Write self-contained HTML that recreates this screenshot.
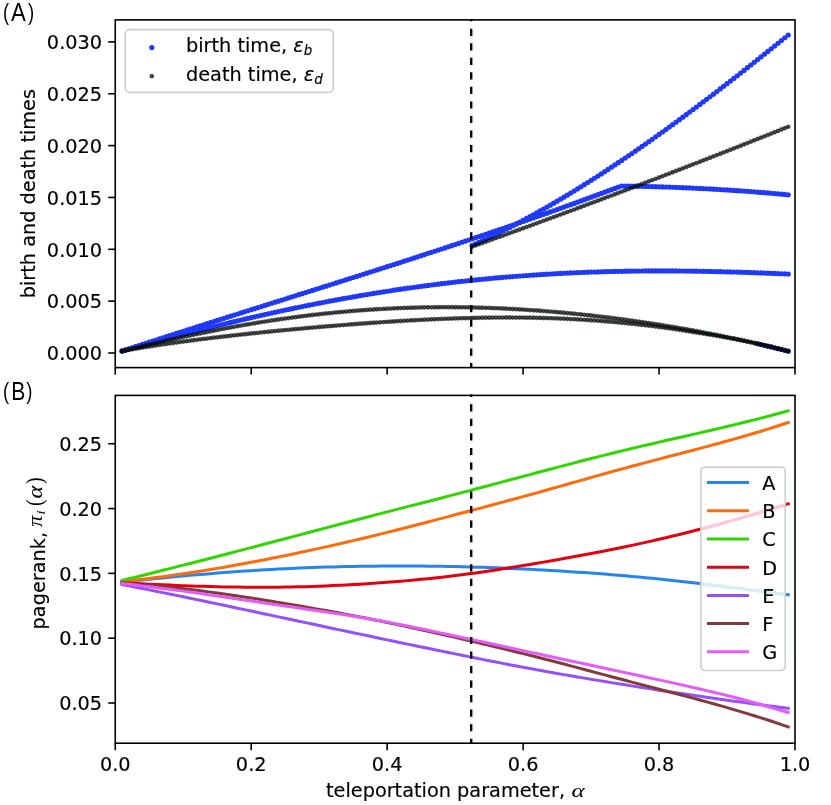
<!DOCTYPE html>
<html lang="en"><head><meta charset="utf-8"><title>Figure</title>
<style>html,body{margin:0;padding:0;background:#fff}body{width:831px;height:805px;overflow:hidden}svg text{white-space:pre}</style></head>
<body>
<svg width="831" height="805" viewBox="0 0 831 805" style="display:block">
<rect x="0" y="0" width="831" height="805" fill="#ffffff"/>
<g id="panelA">
<g fill="#2038f8"><circle cx="122.05" cy="350.97" r="2.6"/><circle cx="125.45" cy="350.01" r="2.6"/><circle cx="128.84" cy="349.06" r="2.6"/><circle cx="132.24" cy="348.12" r="2.6"/><circle cx="135.64" cy="347.17" r="2.6"/><circle cx="139.04" cy="346.23" r="2.6"/><circle cx="142.44" cy="345.30" r="2.6"/><circle cx="145.84" cy="344.36" r="2.6"/><circle cx="149.24" cy="343.44" r="2.6"/><circle cx="152.64" cy="342.51" r="2.6"/><circle cx="156.03" cy="341.59" r="2.6"/><circle cx="159.43" cy="340.67" r="2.6"/><circle cx="162.83" cy="339.76" r="2.6"/><circle cx="166.23" cy="338.85" r="2.6"/><circle cx="169.63" cy="337.94" r="2.6"/><circle cx="173.03" cy="337.04" r="2.6"/><circle cx="176.43" cy="336.15" r="2.6"/><circle cx="179.83" cy="335.25" r="2.6"/><circle cx="183.23" cy="334.37" r="2.6"/><circle cx="186.62" cy="333.48" r="2.6"/><circle cx="190.02" cy="332.61" r="2.6"/><circle cx="193.42" cy="331.73" r="2.6"/><circle cx="196.82" cy="330.86" r="2.6"/><circle cx="200.22" cy="330.00" r="2.6"/><circle cx="203.62" cy="329.14" r="2.6"/><circle cx="207.02" cy="328.28" r="2.6"/><circle cx="210.42" cy="327.43" r="2.6"/><circle cx="213.81" cy="326.59" r="2.6"/><circle cx="217.21" cy="325.75" r="2.6"/><circle cx="220.61" cy="324.91" r="2.6"/><circle cx="224.01" cy="324.08" r="2.6"/><circle cx="227.41" cy="323.26" r="2.6"/><circle cx="230.81" cy="322.44" r="2.6"/><circle cx="234.21" cy="321.63" r="2.6"/><circle cx="237.60" cy="320.82" r="2.6"/><circle cx="241.00" cy="320.02" r="2.6"/><circle cx="244.40" cy="319.22" r="2.6"/><circle cx="247.80" cy="318.43" r="2.6"/><circle cx="251.20" cy="317.64" r="2.6"/><circle cx="254.60" cy="316.86" r="2.6"/><circle cx="258.00" cy="316.09" r="2.6"/><circle cx="261.40" cy="315.32" r="2.6"/><circle cx="264.79" cy="314.55" r="2.6"/><circle cx="268.19" cy="313.80" r="2.6"/><circle cx="271.59" cy="313.04" r="2.6"/><circle cx="274.99" cy="312.30" r="2.6"/><circle cx="278.39" cy="311.56" r="2.6"/><circle cx="281.79" cy="310.83" r="2.6"/><circle cx="285.19" cy="310.10" r="2.6"/><circle cx="288.59" cy="309.38" r="2.6"/><circle cx="291.99" cy="308.66" r="2.6"/><circle cx="295.38" cy="307.95" r="2.6"/><circle cx="298.78" cy="307.25" r="2.6"/><circle cx="302.18" cy="306.55" r="2.6"/><circle cx="305.58" cy="305.86" r="2.6"/><circle cx="308.98" cy="305.18" r="2.6"/><circle cx="312.38" cy="304.50" r="2.6"/><circle cx="315.78" cy="303.83" r="2.6"/><circle cx="319.17" cy="303.16" r="2.6"/><circle cx="322.57" cy="302.51" r="2.6"/><circle cx="325.97" cy="301.85" r="2.6"/><circle cx="329.37" cy="301.21" r="2.6"/><circle cx="332.77" cy="300.57" r="2.6"/><circle cx="336.17" cy="299.94" r="2.6"/><circle cx="339.57" cy="299.31" r="2.6"/><circle cx="342.97" cy="298.69" r="2.6"/><circle cx="346.37" cy="298.08" r="2.6"/><circle cx="349.76" cy="297.48" r="2.6"/><circle cx="353.16" cy="296.88" r="2.6"/><circle cx="356.56" cy="296.28" r="2.6"/><circle cx="359.96" cy="295.70" r="2.6"/><circle cx="363.36" cy="295.12" r="2.6"/><circle cx="366.76" cy="294.55" r="2.6"/><circle cx="370.16" cy="293.98" r="2.6"/><circle cx="373.56" cy="293.42" r="2.6"/><circle cx="376.95" cy="292.87" r="2.6"/><circle cx="380.35" cy="292.33" r="2.6"/><circle cx="383.75" cy="291.79" r="2.6"/><circle cx="387.15" cy="291.26" r="2.6"/><circle cx="390.55" cy="290.74" r="2.6"/><circle cx="393.95" cy="290.22" r="2.6"/><circle cx="397.35" cy="289.71" r="2.6"/><circle cx="400.75" cy="289.21" r="2.6"/><circle cx="404.14" cy="288.71" r="2.6"/><circle cx="407.54" cy="288.22" r="2.6"/><circle cx="410.94" cy="287.74" r="2.6"/><circle cx="414.34" cy="287.26" r="2.6"/><circle cx="417.74" cy="286.79" r="2.6"/><circle cx="421.14" cy="286.33" r="2.6"/><circle cx="424.54" cy="285.88" r="2.6"/><circle cx="427.94" cy="285.43" r="2.6"/><circle cx="431.33" cy="284.99" r="2.6"/><circle cx="434.73" cy="284.56" r="2.6"/><circle cx="438.13" cy="284.13" r="2.6"/><circle cx="441.53" cy="283.71" r="2.6"/><circle cx="444.93" cy="283.30" r="2.6"/><circle cx="448.33" cy="282.90" r="2.6"/><circle cx="451.73" cy="282.50" r="2.6"/><circle cx="455.12" cy="282.11" r="2.6"/><circle cx="458.52" cy="281.72" r="2.6"/><circle cx="461.92" cy="281.35" r="2.6"/><circle cx="465.32" cy="280.98" r="2.6"/><circle cx="468.72" cy="280.61" r="2.6"/><circle cx="472.12" cy="280.26" r="2.6"/><circle cx="475.52" cy="279.91" r="2.6"/><circle cx="478.92" cy="279.57" r="2.6"/><circle cx="482.31" cy="279.23" r="2.6"/><circle cx="485.71" cy="278.90" r="2.6"/><circle cx="489.11" cy="278.58" r="2.6"/><circle cx="492.51" cy="278.27" r="2.6"/><circle cx="495.91" cy="277.96" r="2.6"/><circle cx="499.31" cy="277.66" r="2.6"/><circle cx="502.71" cy="277.37" r="2.6"/><circle cx="506.11" cy="277.08" r="2.6"/><circle cx="509.50" cy="276.80" r="2.6"/><circle cx="512.90" cy="276.53" r="2.6"/><circle cx="516.30" cy="276.26" r="2.6"/><circle cx="519.70" cy="276.01" r="2.6"/><circle cx="523.10" cy="275.75" r="2.6"/><circle cx="526.50" cy="275.51" r="2.6"/><circle cx="529.90" cy="275.27" r="2.6"/><circle cx="533.30" cy="275.04" r="2.6"/><circle cx="536.69" cy="274.81" r="2.6"/><circle cx="540.09" cy="274.59" r="2.6"/><circle cx="543.49" cy="274.38" r="2.6"/><circle cx="546.89" cy="274.18" r="2.6"/><circle cx="550.29" cy="273.98" r="2.6"/><circle cx="553.69" cy="273.79" r="2.6"/><circle cx="557.09" cy="273.60" r="2.6"/><circle cx="560.49" cy="273.42" r="2.6"/><circle cx="563.88" cy="273.25" r="2.6"/><circle cx="567.28" cy="273.08" r="2.6"/><circle cx="570.68" cy="272.92" r="2.6"/><circle cx="574.08" cy="272.77" r="2.6"/><circle cx="577.48" cy="272.62" r="2.6"/><circle cx="580.88" cy="272.48" r="2.6"/><circle cx="584.28" cy="272.35" r="2.6"/><circle cx="587.68" cy="272.22" r="2.6"/><circle cx="591.08" cy="272.10" r="2.6"/><circle cx="594.47" cy="271.99" r="2.6"/><circle cx="597.87" cy="271.88" r="2.6"/><circle cx="601.27" cy="271.77" r="2.6"/><circle cx="604.67" cy="271.68" r="2.6"/><circle cx="608.07" cy="271.59" r="2.6"/><circle cx="611.47" cy="271.50" r="2.6"/><circle cx="614.87" cy="271.42" r="2.6"/><circle cx="618.26" cy="271.35" r="2.6"/><circle cx="621.66" cy="271.28" r="2.6"/><circle cx="625.06" cy="271.22" r="2.6"/><circle cx="628.46" cy="271.16" r="2.6"/><circle cx="631.86" cy="271.11" r="2.6"/><circle cx="635.26" cy="271.07" r="2.6"/><circle cx="638.66" cy="271.03" r="2.6"/><circle cx="642.06" cy="271.00" r="2.6"/><circle cx="645.46" cy="270.97" r="2.6"/><circle cx="648.85" cy="270.95" r="2.6"/><circle cx="652.25" cy="270.93" r="2.6"/><circle cx="655.65" cy="270.92" r="2.6"/><circle cx="659.05" cy="270.92" r="2.6"/><circle cx="662.45" cy="270.92" r="2.6"/><circle cx="665.85" cy="270.92" r="2.6"/><circle cx="669.25" cy="270.93" r="2.6"/><circle cx="672.64" cy="270.95" r="2.6"/><circle cx="676.04" cy="270.97" r="2.6"/><circle cx="679.44" cy="270.99" r="2.6"/><circle cx="682.84" cy="271.02" r="2.6"/><circle cx="686.24" cy="271.06" r="2.6"/><circle cx="689.64" cy="271.10" r="2.6"/><circle cx="693.04" cy="271.14" r="2.6"/><circle cx="696.44" cy="271.19" r="2.6"/><circle cx="699.84" cy="271.24" r="2.6"/><circle cx="703.23" cy="271.30" r="2.6"/><circle cx="706.63" cy="271.36" r="2.6"/><circle cx="710.03" cy="271.43" r="2.6"/><circle cx="713.43" cy="271.50" r="2.6"/><circle cx="716.83" cy="271.58" r="2.6"/><circle cx="720.23" cy="271.66" r="2.6"/><circle cx="723.63" cy="271.74" r="2.6"/><circle cx="727.02" cy="271.83" r="2.6"/><circle cx="730.42" cy="271.92" r="2.6"/><circle cx="733.82" cy="272.02" r="2.6"/><circle cx="737.22" cy="272.12" r="2.6"/><circle cx="740.62" cy="272.22" r="2.6"/><circle cx="744.02" cy="272.33" r="2.6"/><circle cx="747.42" cy="272.44" r="2.6"/><circle cx="750.82" cy="272.55" r="2.6"/><circle cx="754.21" cy="272.67" r="2.6"/><circle cx="757.61" cy="272.79" r="2.6"/><circle cx="761.01" cy="272.92" r="2.6"/><circle cx="764.41" cy="273.04" r="2.6"/><circle cx="767.81" cy="273.18" r="2.6"/><circle cx="771.21" cy="273.31" r="2.6"/><circle cx="774.61" cy="273.45" r="2.6"/><circle cx="778.01" cy="273.59" r="2.6"/><circle cx="781.40" cy="273.73" r="2.6"/><circle cx="784.80" cy="273.87" r="2.6"/><circle cx="788.20" cy="274.02" r="2.6"/></g>
<g fill="#2038f8"><circle cx="122.05" cy="351.07" r="2.6"/><circle cx="125.45" cy="349.95" r="2.6"/><circle cx="128.84" cy="348.84" r="2.6"/><circle cx="132.24" cy="347.73" r="2.6"/><circle cx="135.64" cy="346.62" r="2.6"/><circle cx="139.04" cy="345.51" r="2.6"/><circle cx="142.44" cy="344.41" r="2.6"/><circle cx="145.84" cy="343.30" r="2.6"/><circle cx="149.24" cy="342.20" r="2.6"/><circle cx="152.64" cy="341.10" r="2.6"/><circle cx="156.03" cy="340.00" r="2.6"/><circle cx="159.43" cy="338.90" r="2.6"/><circle cx="162.83" cy="337.81" r="2.6"/><circle cx="166.23" cy="336.71" r="2.6"/><circle cx="169.63" cy="335.62" r="2.6"/><circle cx="173.03" cy="334.53" r="2.6"/><circle cx="176.43" cy="333.44" r="2.6"/><circle cx="179.83" cy="332.35" r="2.6"/><circle cx="183.23" cy="331.26" r="2.6"/><circle cx="186.62" cy="330.17" r="2.6"/><circle cx="190.02" cy="329.09" r="2.6"/><circle cx="193.42" cy="328.00" r="2.6"/><circle cx="196.82" cy="326.92" r="2.6"/><circle cx="200.22" cy="325.84" r="2.6"/><circle cx="203.62" cy="324.76" r="2.6"/><circle cx="207.02" cy="323.68" r="2.6"/><circle cx="210.42" cy="322.60" r="2.6"/><circle cx="213.81" cy="321.52" r="2.6"/><circle cx="217.21" cy="320.44" r="2.6"/><circle cx="220.61" cy="319.36" r="2.6"/><circle cx="224.01" cy="318.29" r="2.6"/><circle cx="227.41" cy="317.21" r="2.6"/><circle cx="230.81" cy="316.14" r="2.6"/><circle cx="234.21" cy="315.06" r="2.6"/><circle cx="237.60" cy="313.99" r="2.6"/><circle cx="241.00" cy="312.92" r="2.6"/><circle cx="244.40" cy="311.84" r="2.6"/><circle cx="247.80" cy="310.77" r="2.6"/><circle cx="251.20" cy="309.70" r="2.6"/><circle cx="254.60" cy="308.63" r="2.6"/><circle cx="258.00" cy="307.56" r="2.6"/><circle cx="261.40" cy="306.49" r="2.6"/><circle cx="264.79" cy="305.42" r="2.6"/><circle cx="268.19" cy="304.35" r="2.6"/><circle cx="271.59" cy="303.27" r="2.6"/><circle cx="274.99" cy="302.20" r="2.6"/><circle cx="278.39" cy="301.13" r="2.6"/><circle cx="281.79" cy="300.06" r="2.6"/><circle cx="285.19" cy="298.99" r="2.6"/><circle cx="288.59" cy="297.92" r="2.6"/><circle cx="291.99" cy="296.85" r="2.6"/><circle cx="295.38" cy="295.78" r="2.6"/><circle cx="298.78" cy="294.71" r="2.6"/><circle cx="302.18" cy="293.64" r="2.6"/><circle cx="305.58" cy="292.57" r="2.6"/><circle cx="308.98" cy="291.50" r="2.6"/><circle cx="312.38" cy="290.43" r="2.6"/><circle cx="315.78" cy="289.35" r="2.6"/><circle cx="319.17" cy="288.28" r="2.6"/><circle cx="322.57" cy="287.21" r="2.6"/><circle cx="325.97" cy="286.13" r="2.6"/><circle cx="329.37" cy="285.06" r="2.6"/><circle cx="332.77" cy="283.98" r="2.6"/><circle cx="336.17" cy="282.91" r="2.6"/><circle cx="339.57" cy="281.83" r="2.6"/><circle cx="342.97" cy="280.75" r="2.6"/><circle cx="346.37" cy="279.68" r="2.6"/><circle cx="349.76" cy="278.60" r="2.6"/><circle cx="353.16" cy="277.52" r="2.6"/><circle cx="356.56" cy="276.44" r="2.6"/><circle cx="359.96" cy="275.35" r="2.6"/><circle cx="363.36" cy="274.27" r="2.6"/><circle cx="366.76" cy="273.19" r="2.6"/><circle cx="370.16" cy="272.10" r="2.6"/><circle cx="373.56" cy="271.02" r="2.6"/><circle cx="376.95" cy="269.93" r="2.6"/><circle cx="380.35" cy="268.84" r="2.6"/><circle cx="383.75" cy="267.75" r="2.6"/><circle cx="387.15" cy="266.66" r="2.6"/><circle cx="390.55" cy="265.57" r="2.6"/><circle cx="393.95" cy="264.48" r="2.6"/><circle cx="397.35" cy="263.38" r="2.6"/><circle cx="400.75" cy="262.28" r="2.6"/><circle cx="404.14" cy="261.19" r="2.6"/><circle cx="407.54" cy="260.09" r="2.6"/><circle cx="410.94" cy="258.99" r="2.6"/><circle cx="414.34" cy="257.88" r="2.6"/><circle cx="417.74" cy="256.78" r="2.6"/><circle cx="421.14" cy="255.67" r="2.6"/><circle cx="424.54" cy="254.56" r="2.6"/><circle cx="427.94" cy="253.45" r="2.6"/><circle cx="431.33" cy="252.34" r="2.6"/><circle cx="434.73" cy="251.23" r="2.6"/><circle cx="438.13" cy="250.11" r="2.6"/><circle cx="441.53" cy="249.00" r="2.6"/><circle cx="444.93" cy="247.88" r="2.6"/><circle cx="448.33" cy="246.76" r="2.6"/><circle cx="451.73" cy="245.63" r="2.6"/><circle cx="455.12" cy="244.51" r="2.6"/><circle cx="458.52" cy="243.38" r="2.6"/><circle cx="461.92" cy="242.25" r="2.6"/><circle cx="465.32" cy="241.11" r="2.6"/><circle cx="468.72" cy="239.98" r="2.6"/><circle cx="472.12" cy="238.84" r="2.6"/><circle cx="475.52" cy="237.70" r="2.6"/><circle cx="478.92" cy="236.56" r="2.6"/><circle cx="482.31" cy="235.42" r="2.6"/><circle cx="485.71" cy="234.27" r="2.6"/><circle cx="489.11" cy="233.12" r="2.6"/><circle cx="492.51" cy="231.97" r="2.6"/><circle cx="495.91" cy="230.81" r="2.6"/><circle cx="499.31" cy="229.65" r="2.6"/><circle cx="502.71" cy="228.49" r="2.6"/><circle cx="506.11" cy="227.33" r="2.6"/><circle cx="509.50" cy="226.17" r="2.6"/><circle cx="512.90" cy="225.00" r="2.6"/><circle cx="516.30" cy="223.82" r="2.6"/><circle cx="519.70" cy="222.65" r="2.6"/><circle cx="523.10" cy="221.47" r="2.6"/><circle cx="526.50" cy="220.29" r="2.6"/><circle cx="529.90" cy="219.11" r="2.6"/><circle cx="533.30" cy="217.92" r="2.6"/><circle cx="536.69" cy="216.73" r="2.6"/><circle cx="540.09" cy="215.54" r="2.6"/><circle cx="543.49" cy="214.34" r="2.6"/><circle cx="546.89" cy="213.14" r="2.6"/><circle cx="550.29" cy="211.94" r="2.6"/><circle cx="553.69" cy="210.73" r="2.6"/><circle cx="557.09" cy="209.52" r="2.6"/><circle cx="560.49" cy="208.31" r="2.6"/><circle cx="563.88" cy="207.09" r="2.6"/><circle cx="567.28" cy="205.87" r="2.6"/><circle cx="570.68" cy="204.64" r="2.6"/><circle cx="574.08" cy="203.42" r="2.6"/><circle cx="577.48" cy="202.18" r="2.6"/><circle cx="580.88" cy="200.95" r="2.6"/><circle cx="584.28" cy="199.71" r="2.6"/><circle cx="587.68" cy="198.47" r="2.6"/><circle cx="591.08" cy="197.22" r="2.6"/><circle cx="594.47" cy="195.97" r="2.6"/><circle cx="597.87" cy="194.72" r="2.6"/><circle cx="601.27" cy="193.46" r="2.6"/><circle cx="604.67" cy="192.19" r="2.6"/><circle cx="608.07" cy="190.93" r="2.6"/><circle cx="611.47" cy="189.66" r="2.6"/><circle cx="614.87" cy="188.38" r="2.6"/><circle cx="618.26" cy="187.10" r="2.6"/><circle cx="621.66" cy="186.01" r="2.6"/><circle cx="625.06" cy="186.05" r="2.6"/><circle cx="628.46" cy="186.10" r="2.6"/><circle cx="631.86" cy="186.15" r="2.6"/><circle cx="635.26" cy="186.21" r="2.6"/><circle cx="638.66" cy="186.28" r="2.6"/><circle cx="642.06" cy="186.35" r="2.6"/><circle cx="645.46" cy="186.42" r="2.6"/><circle cx="648.85" cy="186.50" r="2.6"/><circle cx="652.25" cy="186.59" r="2.6"/><circle cx="655.65" cy="186.68" r="2.6"/><circle cx="659.05" cy="186.78" r="2.6"/><circle cx="662.45" cy="186.89" r="2.6"/><circle cx="665.85" cy="187.00" r="2.6"/><circle cx="669.25" cy="187.11" r="2.6"/><circle cx="672.64" cy="187.23" r="2.6"/><circle cx="676.04" cy="187.36" r="2.6"/><circle cx="679.44" cy="187.49" r="2.6"/><circle cx="682.84" cy="187.63" r="2.6"/><circle cx="686.24" cy="187.78" r="2.6"/><circle cx="689.64" cy="187.93" r="2.6"/><circle cx="693.04" cy="188.08" r="2.6"/><circle cx="696.44" cy="188.24" r="2.6"/><circle cx="699.84" cy="188.41" r="2.6"/><circle cx="703.23" cy="188.58" r="2.6"/><circle cx="706.63" cy="188.76" r="2.6"/><circle cx="710.03" cy="188.95" r="2.6"/><circle cx="713.43" cy="189.14" r="2.6"/><circle cx="716.83" cy="189.33" r="2.6"/><circle cx="720.23" cy="189.54" r="2.6"/><circle cx="723.63" cy="189.74" r="2.6"/><circle cx="727.02" cy="189.96" r="2.6"/><circle cx="730.42" cy="190.18" r="2.6"/><circle cx="733.82" cy="190.40" r="2.6"/><circle cx="737.22" cy="190.63" r="2.6"/><circle cx="740.62" cy="190.87" r="2.6"/><circle cx="744.02" cy="191.11" r="2.6"/><circle cx="747.42" cy="191.36" r="2.6"/><circle cx="750.82" cy="191.61" r="2.6"/><circle cx="754.21" cy="191.87" r="2.6"/><circle cx="757.61" cy="192.13" r="2.6"/><circle cx="761.01" cy="192.40" r="2.6"/><circle cx="764.41" cy="192.68" r="2.6"/><circle cx="767.81" cy="192.96" r="2.6"/><circle cx="771.21" cy="193.25" r="2.6"/><circle cx="774.61" cy="193.54" r="2.6"/><circle cx="778.01" cy="193.84" r="2.6"/><circle cx="781.40" cy="194.15" r="2.6"/><circle cx="784.80" cy="194.46" r="2.6"/><circle cx="788.20" cy="194.78" r="2.6"/></g>
<g fill="#2038f8"><circle cx="472.12" cy="245.38" r="2.6"/><circle cx="475.52" cy="243.85" r="2.6"/><circle cx="478.92" cy="242.30" r="2.6"/><circle cx="482.31" cy="240.72" r="2.6"/><circle cx="485.71" cy="239.13" r="2.6"/><circle cx="489.11" cy="237.51" r="2.6"/><circle cx="492.51" cy="235.88" r="2.6"/><circle cx="495.91" cy="234.23" r="2.6"/><circle cx="499.31" cy="232.55" r="2.6"/><circle cx="502.71" cy="230.86" r="2.6"/><circle cx="506.11" cy="229.14" r="2.6"/><circle cx="509.50" cy="227.41" r="2.6"/><circle cx="512.90" cy="225.66" r="2.6"/><circle cx="516.30" cy="223.89" r="2.6"/><circle cx="519.70" cy="222.10" r="2.6"/><circle cx="523.10" cy="220.29" r="2.6"/><circle cx="526.50" cy="218.46" r="2.6"/><circle cx="529.90" cy="216.61" r="2.6"/><circle cx="533.30" cy="214.75" r="2.6"/><circle cx="536.69" cy="212.87" r="2.6"/><circle cx="540.09" cy="210.96" r="2.6"/><circle cx="543.49" cy="209.05" r="2.6"/><circle cx="546.89" cy="207.11" r="2.6"/><circle cx="550.29" cy="205.16" r="2.6"/><circle cx="553.69" cy="203.19" r="2.6"/><circle cx="557.09" cy="201.20" r="2.6"/><circle cx="560.49" cy="199.19" r="2.6"/><circle cx="563.88" cy="197.17" r="2.6"/><circle cx="567.28" cy="195.14" r="2.6"/><circle cx="570.68" cy="193.08" r="2.6"/><circle cx="574.08" cy="191.01" r="2.6"/><circle cx="577.48" cy="188.92" r="2.6"/><circle cx="580.88" cy="186.82" r="2.6"/><circle cx="584.28" cy="184.70" r="2.6"/><circle cx="587.68" cy="182.57" r="2.6"/><circle cx="591.08" cy="180.42" r="2.6"/><circle cx="594.47" cy="178.25" r="2.6"/><circle cx="597.87" cy="176.07" r="2.6"/><circle cx="601.27" cy="173.88" r="2.6"/><circle cx="604.67" cy="171.67" r="2.6"/><circle cx="608.07" cy="169.45" r="2.6"/><circle cx="611.47" cy="167.21" r="2.6"/><circle cx="614.87" cy="164.95" r="2.6"/><circle cx="618.26" cy="162.69" r="2.6"/><circle cx="621.66" cy="160.41" r="2.6"/><circle cx="625.06" cy="158.11" r="2.6"/><circle cx="628.46" cy="155.80" r="2.6"/><circle cx="631.86" cy="153.48" r="2.6"/><circle cx="635.26" cy="151.15" r="2.6"/><circle cx="638.66" cy="148.80" r="2.6"/><circle cx="642.06" cy="146.44" r="2.6"/><circle cx="645.46" cy="144.06" r="2.6"/><circle cx="648.85" cy="141.68" r="2.6"/><circle cx="652.25" cy="139.28" r="2.6"/><circle cx="655.65" cy="136.87" r="2.6"/><circle cx="659.05" cy="134.44" r="2.6"/><circle cx="662.45" cy="132.01" r="2.6"/><circle cx="665.85" cy="129.56" r="2.6"/><circle cx="669.25" cy="127.10" r="2.6"/><circle cx="672.64" cy="124.63" r="2.6"/><circle cx="676.04" cy="122.15" r="2.6"/><circle cx="679.44" cy="119.65" r="2.6"/><circle cx="682.84" cy="117.15" r="2.6"/><circle cx="686.24" cy="114.64" r="2.6"/><circle cx="689.64" cy="112.11" r="2.6"/><circle cx="693.04" cy="109.57" r="2.6"/><circle cx="696.44" cy="107.03" r="2.6"/><circle cx="699.84" cy="104.47" r="2.6"/><circle cx="703.23" cy="101.91" r="2.6"/><circle cx="706.63" cy="99.33" r="2.6"/><circle cx="710.03" cy="96.74" r="2.6"/><circle cx="713.43" cy="94.15" r="2.6"/><circle cx="716.83" cy="91.54" r="2.6"/><circle cx="720.23" cy="88.93" r="2.6"/><circle cx="723.63" cy="86.31" r="2.6"/><circle cx="727.02" cy="83.68" r="2.6"/><circle cx="730.42" cy="81.04" r="2.6"/><circle cx="733.82" cy="78.39" r="2.6"/><circle cx="737.22" cy="75.73" r="2.6"/><circle cx="740.62" cy="73.06" r="2.6"/><circle cx="744.02" cy="70.39" r="2.6"/><circle cx="747.42" cy="67.71" r="2.6"/><circle cx="750.82" cy="65.02" r="2.6"/><circle cx="754.21" cy="62.33" r="2.6"/><circle cx="757.61" cy="59.62" r="2.6"/><circle cx="761.01" cy="56.91" r="2.6"/><circle cx="764.41" cy="54.19" r="2.6"/><circle cx="767.81" cy="51.47" r="2.6"/><circle cx="771.21" cy="48.74" r="2.6"/><circle cx="774.61" cy="46.00" r="2.6"/><circle cx="778.01" cy="43.26" r="2.6"/><circle cx="781.40" cy="40.51" r="2.6"/><circle cx="784.80" cy="37.75" r="2.6"/><circle cx="788.20" cy="34.99" r="2.6"/></g>
<g fill="#2038f8"><circle cx="757.61" cy="343.76" r="2.6"/><circle cx="761.01" cy="344.55" r="2.6"/><circle cx="764.41" cy="345.35" r="2.6"/><circle cx="767.81" cy="346.15" r="2.6"/><circle cx="771.21" cy="346.97" r="2.6"/><circle cx="774.61" cy="347.79" r="2.6"/><circle cx="778.01" cy="348.63" r="2.6"/><circle cx="781.40" cy="349.47" r="2.6"/><circle cx="784.80" cy="350.33" r="2.6"/><circle cx="788.20" cy="351.19" r="2.6"/></g>
<g fill="#050a0a" fill-opacity="0.63" stroke="#050a0a" stroke-opacity="0.63" stroke-width="1.7"><circle cx="122.05" cy="351.13" r="1.55"/><circle cx="125.45" cy="350.52" r="1.55"/><circle cx="128.84" cy="349.92" r="1.55"/><circle cx="132.24" cy="349.33" r="1.55"/><circle cx="135.64" cy="348.75" r="1.55"/><circle cx="139.04" cy="348.17" r="1.55"/><circle cx="142.44" cy="347.62" r="1.55"/><circle cx="145.84" cy="347.06" r="1.55"/><circle cx="149.24" cy="346.52" r="1.55"/><circle cx="152.64" cy="345.99" r="1.55"/><circle cx="156.03" cy="345.47" r="1.55"/><circle cx="159.43" cy="344.96" r="1.55"/><circle cx="162.83" cy="344.45" r="1.55"/><circle cx="166.23" cy="343.95" r="1.55"/><circle cx="169.63" cy="343.47" r="1.55"/><circle cx="173.03" cy="342.98" r="1.55"/><circle cx="176.43" cy="342.51" r="1.55"/><circle cx="179.83" cy="342.04" r="1.55"/><circle cx="183.23" cy="341.58" r="1.55"/><circle cx="186.62" cy="341.13" r="1.55"/><circle cx="190.02" cy="340.68" r="1.55"/><circle cx="193.42" cy="340.24" r="1.55"/><circle cx="196.82" cy="339.80" r="1.55"/><circle cx="200.22" cy="339.37" r="1.55"/><circle cx="203.62" cy="338.95" r="1.55"/><circle cx="207.02" cy="338.53" r="1.55"/><circle cx="210.42" cy="338.12" r="1.55"/><circle cx="213.81" cy="337.71" r="1.55"/><circle cx="217.21" cy="337.31" r="1.55"/><circle cx="220.61" cy="336.91" r="1.55"/><circle cx="224.01" cy="336.52" r="1.55"/><circle cx="227.41" cy="336.13" r="1.55"/><circle cx="230.81" cy="335.74" r="1.55"/><circle cx="234.21" cy="335.36" r="1.55"/><circle cx="237.60" cy="334.99" r="1.55"/><circle cx="241.00" cy="334.61" r="1.55"/><circle cx="244.40" cy="334.25" r="1.55"/><circle cx="247.80" cy="333.88" r="1.55"/><circle cx="251.20" cy="333.52" r="1.55"/><circle cx="254.60" cy="333.16" r="1.55"/><circle cx="258.00" cy="332.81" r="1.55"/><circle cx="261.40" cy="332.46" r="1.55"/><circle cx="264.79" cy="332.12" r="1.55"/><circle cx="268.19" cy="331.77" r="1.55"/><circle cx="271.59" cy="331.43" r="1.55"/><circle cx="274.99" cy="331.10" r="1.55"/><circle cx="278.39" cy="330.77" r="1.55"/><circle cx="281.79" cy="330.44" r="1.55"/><circle cx="285.19" cy="330.11" r="1.55"/><circle cx="288.59" cy="329.79" r="1.55"/><circle cx="291.99" cy="329.47" r="1.55"/><circle cx="295.38" cy="329.15" r="1.55"/><circle cx="298.78" cy="328.84" r="1.55"/><circle cx="302.18" cy="328.53" r="1.55"/><circle cx="305.58" cy="328.22" r="1.55"/><circle cx="308.98" cy="327.92" r="1.55"/><circle cx="312.38" cy="327.61" r="1.55"/><circle cx="315.78" cy="327.32" r="1.55"/><circle cx="319.17" cy="327.02" r="1.55"/><circle cx="322.57" cy="326.73" r="1.55"/><circle cx="325.97" cy="326.44" r="1.55"/><circle cx="329.37" cy="326.16" r="1.55"/><circle cx="332.77" cy="325.88" r="1.55"/><circle cx="336.17" cy="325.60" r="1.55"/><circle cx="339.57" cy="325.32" r="1.55"/><circle cx="342.97" cy="325.05" r="1.55"/><circle cx="346.37" cy="324.78" r="1.55"/><circle cx="349.76" cy="324.52" r="1.55"/><circle cx="353.16" cy="324.25" r="1.55"/><circle cx="356.56" cy="324.00" r="1.55"/><circle cx="359.96" cy="323.74" r="1.55"/><circle cx="363.36" cy="323.49" r="1.55"/><circle cx="366.76" cy="323.25" r="1.55"/><circle cx="370.16" cy="323.00" r="1.55"/><circle cx="373.56" cy="322.76" r="1.55"/><circle cx="376.95" cy="322.53" r="1.55"/><circle cx="380.35" cy="322.30" r="1.55"/><circle cx="383.75" cy="322.07" r="1.55"/><circle cx="387.15" cy="321.85" r="1.55"/><circle cx="390.55" cy="321.63" r="1.55"/><circle cx="393.95" cy="321.42" r="1.55"/><circle cx="397.35" cy="321.21" r="1.55"/><circle cx="400.75" cy="321.00" r="1.55"/><circle cx="404.14" cy="320.80" r="1.55"/><circle cx="407.54" cy="320.61" r="1.55"/><circle cx="410.94" cy="320.42" r="1.55"/><circle cx="414.34" cy="320.23" r="1.55"/><circle cx="417.74" cy="320.05" r="1.55"/><circle cx="421.14" cy="319.88" r="1.55"/><circle cx="424.54" cy="319.71" r="1.55"/><circle cx="427.94" cy="319.54" r="1.55"/><circle cx="431.33" cy="319.39" r="1.55"/><circle cx="434.73" cy="319.23" r="1.55"/><circle cx="438.13" cy="319.09" r="1.55"/><circle cx="441.53" cy="318.94" r="1.55"/><circle cx="444.93" cy="318.81" r="1.55"/><circle cx="448.33" cy="318.68" r="1.55"/><circle cx="451.73" cy="318.56" r="1.55"/><circle cx="455.12" cy="318.44" r="1.55"/><circle cx="458.52" cy="318.33" r="1.55"/><circle cx="461.92" cy="318.22" r="1.55"/><circle cx="465.32" cy="318.13" r="1.55"/><circle cx="468.72" cy="318.04" r="1.55"/><circle cx="472.12" cy="317.95" r="1.55"/><circle cx="475.52" cy="317.88" r="1.55"/><circle cx="478.92" cy="317.81" r="1.55"/><circle cx="482.31" cy="317.74" r="1.55"/><circle cx="485.71" cy="317.69" r="1.55"/><circle cx="489.11" cy="317.64" r="1.55"/><circle cx="492.51" cy="317.60" r="1.55"/><circle cx="495.91" cy="317.57" r="1.55"/><circle cx="499.31" cy="317.55" r="1.55"/><circle cx="502.71" cy="317.53" r="1.55"/><circle cx="506.11" cy="317.52" r="1.55"/><circle cx="509.50" cy="317.52" r="1.55"/><circle cx="512.90" cy="317.53" r="1.55"/><circle cx="516.30" cy="317.54" r="1.55"/><circle cx="519.70" cy="317.57" r="1.55"/><circle cx="523.10" cy="317.60" r="1.55"/><circle cx="526.50" cy="317.64" r="1.55"/><circle cx="529.90" cy="317.70" r="1.55"/><circle cx="533.30" cy="317.76" r="1.55"/><circle cx="536.69" cy="317.82" r="1.55"/><circle cx="540.09" cy="317.90" r="1.55"/><circle cx="543.49" cy="317.99" r="1.55"/><circle cx="546.89" cy="318.09" r="1.55"/><circle cx="550.29" cy="318.19" r="1.55"/><circle cx="553.69" cy="318.31" r="1.55"/><circle cx="557.09" cy="318.43" r="1.55"/><circle cx="560.49" cy="318.57" r="1.55"/><circle cx="563.88" cy="318.71" r="1.55"/><circle cx="567.28" cy="318.86" r="1.55"/><circle cx="570.68" cy="319.03" r="1.55"/><circle cx="574.08" cy="319.20" r="1.55"/><circle cx="577.48" cy="319.39" r="1.55"/><circle cx="580.88" cy="319.58" r="1.55"/><circle cx="584.28" cy="319.79" r="1.55"/><circle cx="587.68" cy="320.00" r="1.55"/><circle cx="591.08" cy="320.23" r="1.55"/><circle cx="594.47" cy="320.46" r="1.55"/><circle cx="597.87" cy="320.71" r="1.55"/><circle cx="601.27" cy="320.96" r="1.55"/><circle cx="604.67" cy="321.23" r="1.55"/><circle cx="608.07" cy="321.51" r="1.55"/><circle cx="611.47" cy="321.80" r="1.55"/><circle cx="614.87" cy="322.10" r="1.55"/><circle cx="618.26" cy="322.41" r="1.55"/><circle cx="621.66" cy="322.73" r="1.55"/><circle cx="625.06" cy="323.06" r="1.55"/><circle cx="628.46" cy="323.40" r="1.55"/><circle cx="631.86" cy="323.76" r="1.55"/><circle cx="635.26" cy="324.12" r="1.55"/><circle cx="638.66" cy="324.50" r="1.55"/><circle cx="642.06" cy="324.88" r="1.55"/><circle cx="645.46" cy="325.28" r="1.55"/><circle cx="648.85" cy="325.69" r="1.55"/><circle cx="652.25" cy="326.11" r="1.55"/><circle cx="655.65" cy="326.54" r="1.55"/><circle cx="659.05" cy="326.98" r="1.55"/><circle cx="662.45" cy="327.43" r="1.55"/><circle cx="665.85" cy="327.89" r="1.55"/><circle cx="669.25" cy="328.37" r="1.55"/><circle cx="672.64" cy="328.85" r="1.55"/><circle cx="676.04" cy="329.34" r="1.55"/><circle cx="679.44" cy="329.85" r="1.55"/><circle cx="682.84" cy="330.37" r="1.55"/><circle cx="686.24" cy="330.89" r="1.55"/><circle cx="689.64" cy="331.43" r="1.55"/><circle cx="693.04" cy="331.98" r="1.55"/><circle cx="696.44" cy="332.54" r="1.55"/><circle cx="699.84" cy="333.10" r="1.55"/><circle cx="703.23" cy="333.62" r="1.55"/><circle cx="706.63" cy="334.15" r="1.55"/><circle cx="710.03" cy="334.70" r="1.55"/><circle cx="713.43" cy="335.26" r="1.55"/><circle cx="716.83" cy="335.84" r="1.55"/><circle cx="720.23" cy="336.43" r="1.55"/><circle cx="723.63" cy="337.03" r="1.55"/><circle cx="727.02" cy="337.65" r="1.55"/><circle cx="730.42" cy="338.29" r="1.55"/><circle cx="733.82" cy="338.93" r="1.55"/><circle cx="737.22" cy="339.60" r="1.55"/><circle cx="740.62" cy="340.27" r="1.55"/><circle cx="744.02" cy="340.96" r="1.55"/><circle cx="747.42" cy="341.66" r="1.55"/><circle cx="750.82" cy="342.37" r="1.55"/><circle cx="754.21" cy="343.10" r="1.55"/><circle cx="757.61" cy="343.85" r="1.55"/><circle cx="761.01" cy="344.60" r="1.55"/><circle cx="764.41" cy="345.38" r="1.55"/><circle cx="767.81" cy="346.16" r="1.55"/><circle cx="771.21" cy="346.97" r="1.55"/><circle cx="774.61" cy="347.79" r="1.55"/><circle cx="778.01" cy="348.63" r="1.55"/><circle cx="781.40" cy="349.47" r="1.55"/><circle cx="784.80" cy="350.33" r="1.55"/><circle cx="788.20" cy="351.19" r="1.55"/></g>
<g fill="#050a0a" fill-opacity="0.63" stroke="#050a0a" stroke-opacity="0.63" stroke-width="1.7"><circle cx="122.05" cy="351.18" r="1.55"/><circle cx="125.45" cy="350.35" r="1.55"/><circle cx="128.84" cy="349.53" r="1.55"/><circle cx="132.24" cy="348.71" r="1.55"/><circle cx="135.64" cy="347.89" r="1.55"/><circle cx="139.04" cy="347.08" r="1.55"/><circle cx="142.44" cy="346.27" r="1.55"/><circle cx="145.84" cy="345.47" r="1.55"/><circle cx="149.24" cy="344.67" r="1.55"/><circle cx="152.64" cy="343.88" r="1.55"/><circle cx="156.03" cy="343.09" r="1.55"/><circle cx="159.43" cy="342.31" r="1.55"/><circle cx="162.83" cy="341.53" r="1.55"/><circle cx="166.23" cy="340.76" r="1.55"/><circle cx="169.63" cy="339.99" r="1.55"/><circle cx="173.03" cy="339.23" r="1.55"/><circle cx="176.43" cy="338.48" r="1.55"/><circle cx="179.83" cy="337.73" r="1.55"/><circle cx="183.23" cy="336.99" r="1.55"/><circle cx="186.62" cy="336.26" r="1.55"/><circle cx="190.02" cy="335.53" r="1.55"/><circle cx="193.42" cy="334.81" r="1.55"/><circle cx="196.82" cy="334.10" r="1.55"/><circle cx="200.22" cy="333.40" r="1.55"/><circle cx="203.62" cy="332.70" r="1.55"/><circle cx="207.02" cy="332.01" r="1.55"/><circle cx="210.42" cy="331.33" r="1.55"/><circle cx="213.81" cy="330.66" r="1.55"/><circle cx="217.21" cy="329.99" r="1.55"/><circle cx="220.61" cy="329.33" r="1.55"/><circle cx="224.01" cy="328.68" r="1.55"/><circle cx="227.41" cy="328.04" r="1.55"/><circle cx="230.81" cy="327.41" r="1.55"/><circle cx="234.21" cy="326.79" r="1.55"/><circle cx="237.60" cy="326.17" r="1.55"/><circle cx="241.00" cy="325.57" r="1.55"/><circle cx="244.40" cy="324.97" r="1.55"/><circle cx="247.80" cy="324.38" r="1.55"/><circle cx="251.20" cy="323.80" r="1.55"/><circle cx="254.60" cy="323.23" r="1.55"/><circle cx="258.00" cy="322.67" r="1.55"/><circle cx="261.40" cy="322.12" r="1.55"/><circle cx="264.79" cy="321.58" r="1.55"/><circle cx="268.19" cy="321.05" r="1.55"/><circle cx="271.59" cy="320.52" r="1.55"/><circle cx="274.99" cy="320.01" r="1.55"/><circle cx="278.39" cy="319.51" r="1.55"/><circle cx="281.79" cy="319.01" r="1.55"/><circle cx="285.19" cy="318.53" r="1.55"/><circle cx="288.59" cy="318.05" r="1.55"/><circle cx="291.99" cy="317.59" r="1.55"/><circle cx="295.38" cy="317.13" r="1.55"/><circle cx="298.78" cy="316.69" r="1.55"/><circle cx="302.18" cy="316.26" r="1.55"/><circle cx="305.58" cy="315.83" r="1.55"/><circle cx="308.98" cy="315.42" r="1.55"/><circle cx="312.38" cy="315.01" r="1.55"/><circle cx="315.78" cy="314.62" r="1.55"/><circle cx="319.17" cy="314.23" r="1.55"/><circle cx="322.57" cy="313.86" r="1.55"/><circle cx="325.97" cy="313.49" r="1.55"/><circle cx="329.37" cy="313.14" r="1.55"/><circle cx="332.77" cy="312.80" r="1.55"/><circle cx="336.17" cy="312.46" r="1.55"/><circle cx="339.57" cy="312.14" r="1.55"/><circle cx="342.97" cy="311.83" r="1.55"/><circle cx="346.37" cy="311.53" r="1.55"/><circle cx="349.76" cy="311.23" r="1.55"/><circle cx="353.16" cy="310.95" r="1.55"/><circle cx="356.56" cy="310.68" r="1.55"/><circle cx="359.96" cy="310.42" r="1.55"/><circle cx="363.36" cy="310.17" r="1.55"/><circle cx="366.76" cy="309.93" r="1.55"/><circle cx="370.16" cy="309.70" r="1.55"/><circle cx="373.56" cy="309.48" r="1.55"/><circle cx="376.95" cy="309.27" r="1.55"/><circle cx="380.35" cy="309.07" r="1.55"/><circle cx="383.75" cy="308.88" r="1.55"/><circle cx="387.15" cy="308.70" r="1.55"/><circle cx="390.55" cy="308.53" r="1.55"/><circle cx="393.95" cy="308.37" r="1.55"/><circle cx="397.35" cy="308.22" r="1.55"/><circle cx="400.75" cy="308.09" r="1.55"/><circle cx="404.14" cy="307.96" r="1.55"/><circle cx="407.54" cy="307.84" r="1.55"/><circle cx="410.94" cy="307.73" r="1.55"/><circle cx="414.34" cy="307.63" r="1.55"/><circle cx="417.74" cy="307.55" r="1.55"/><circle cx="421.14" cy="307.47" r="1.55"/><circle cx="424.54" cy="307.40" r="1.55"/><circle cx="427.94" cy="307.34" r="1.55"/><circle cx="431.33" cy="307.29" r="1.55"/><circle cx="434.73" cy="307.26" r="1.55"/><circle cx="438.13" cy="307.23" r="1.55"/><circle cx="441.53" cy="307.21" r="1.55"/><circle cx="444.93" cy="307.20" r="1.55"/><circle cx="448.33" cy="307.20" r="1.55"/><circle cx="451.73" cy="307.21" r="1.55"/><circle cx="455.12" cy="307.23" r="1.55"/><circle cx="458.52" cy="307.26" r="1.55"/><circle cx="461.92" cy="307.30" r="1.55"/><circle cx="465.32" cy="307.35" r="1.55"/><circle cx="468.72" cy="307.41" r="1.55"/><circle cx="472.12" cy="307.48" r="1.55"/><circle cx="475.52" cy="307.56" r="1.55"/><circle cx="478.92" cy="307.64" r="1.55"/><circle cx="482.31" cy="307.74" r="1.55"/><circle cx="485.71" cy="307.85" r="1.55"/><circle cx="489.11" cy="307.96" r="1.55"/><circle cx="492.51" cy="308.08" r="1.55"/><circle cx="495.91" cy="308.22" r="1.55"/><circle cx="499.31" cy="308.36" r="1.55"/><circle cx="502.71" cy="308.51" r="1.55"/><circle cx="506.11" cy="308.67" r="1.55"/><circle cx="509.50" cy="308.84" r="1.55"/><circle cx="512.90" cy="309.02" r="1.55"/><circle cx="516.30" cy="309.21" r="1.55"/><circle cx="519.70" cy="309.41" r="1.55"/><circle cx="523.10" cy="309.61" r="1.55"/><circle cx="526.50" cy="309.83" r="1.55"/><circle cx="529.90" cy="310.05" r="1.55"/><circle cx="533.30" cy="310.28" r="1.55"/><circle cx="536.69" cy="310.52" r="1.55"/><circle cx="540.09" cy="310.77" r="1.55"/><circle cx="543.49" cy="311.03" r="1.55"/><circle cx="546.89" cy="311.30" r="1.55"/><circle cx="550.29" cy="311.57" r="1.55"/><circle cx="553.69" cy="311.85" r="1.55"/><circle cx="557.09" cy="312.15" r="1.55"/><circle cx="560.49" cy="312.45" r="1.55"/><circle cx="563.88" cy="312.75" r="1.55"/><circle cx="567.28" cy="313.07" r="1.55"/><circle cx="570.68" cy="313.40" r="1.55"/><circle cx="574.08" cy="313.73" r="1.55"/><circle cx="577.48" cy="314.07" r="1.55"/><circle cx="580.88" cy="314.42" r="1.55"/><circle cx="584.28" cy="314.78" r="1.55"/><circle cx="587.68" cy="315.15" r="1.55"/><circle cx="591.08" cy="315.52" r="1.55"/><circle cx="594.47" cy="315.91" r="1.55"/><circle cx="597.87" cy="316.30" r="1.55"/><circle cx="601.27" cy="316.70" r="1.55"/><circle cx="604.67" cy="317.10" r="1.55"/><circle cx="608.07" cy="317.52" r="1.55"/><circle cx="611.47" cy="317.94" r="1.55"/><circle cx="614.87" cy="318.37" r="1.55"/><circle cx="618.26" cy="318.81" r="1.55"/><circle cx="621.66" cy="319.26" r="1.55"/><circle cx="625.06" cy="319.72" r="1.55"/><circle cx="628.46" cy="320.18" r="1.55"/><circle cx="631.86" cy="320.65" r="1.55"/><circle cx="635.26" cy="321.13" r="1.55"/><circle cx="638.66" cy="321.62" r="1.55"/><circle cx="642.06" cy="322.11" r="1.55"/><circle cx="645.46" cy="322.61" r="1.55"/><circle cx="648.85" cy="323.12" r="1.55"/><circle cx="652.25" cy="323.64" r="1.55"/><circle cx="655.65" cy="324.17" r="1.55"/><circle cx="659.05" cy="324.70" r="1.55"/><circle cx="662.45" cy="325.25" r="1.55"/><circle cx="665.85" cy="325.80" r="1.55"/><circle cx="669.25" cy="326.36" r="1.55"/><circle cx="672.64" cy="326.92" r="1.55"/><circle cx="676.04" cy="327.50" r="1.55"/><circle cx="679.44" cy="328.08" r="1.55"/><circle cx="682.84" cy="328.67" r="1.55"/><circle cx="686.24" cy="329.27" r="1.55"/><circle cx="689.64" cy="329.87" r="1.55"/><circle cx="693.04" cy="330.49" r="1.55"/><circle cx="696.44" cy="331.11" r="1.55"/><circle cx="699.84" cy="331.74" r="1.55"/><circle cx="703.23" cy="332.38" r="1.55"/><circle cx="706.63" cy="333.03" r="1.55"/><circle cx="710.03" cy="333.68" r="1.55"/><circle cx="713.43" cy="334.35" r="1.55"/><circle cx="716.83" cy="335.02" r="1.55"/><circle cx="720.23" cy="335.70" r="1.55"/><circle cx="723.63" cy="336.39" r="1.55"/><circle cx="727.02" cy="337.09" r="1.55"/><circle cx="730.42" cy="337.80" r="1.55"/><circle cx="733.82" cy="338.51" r="1.55"/><circle cx="737.22" cy="339.23" r="1.55"/><circle cx="740.62" cy="339.97" r="1.55"/><circle cx="744.02" cy="340.71" r="1.55"/><circle cx="747.42" cy="341.46" r="1.55"/><circle cx="750.82" cy="342.22" r="1.55"/><circle cx="754.21" cy="342.99" r="1.55"/><circle cx="757.61" cy="343.76" r="1.55"/><circle cx="761.01" cy="344.55" r="1.55"/><circle cx="764.41" cy="345.35" r="1.55"/><circle cx="767.81" cy="346.15" r="1.55"/><circle cx="771.21" cy="346.97" r="1.55"/><circle cx="774.61" cy="347.79" r="1.55"/><circle cx="778.01" cy="348.63" r="1.55"/><circle cx="781.40" cy="349.47" r="1.55"/><circle cx="784.80" cy="350.33" r="1.55"/><circle cx="788.20" cy="351.19" r="1.55"/></g>
<g fill="#050a0a" fill-opacity="0.63" stroke="#050a0a" stroke-opacity="0.63" stroke-width="1.7"><circle cx="472.12" cy="246.64" r="1.55"/><circle cx="475.52" cy="245.42" r="1.55"/><circle cx="478.92" cy="244.21" r="1.55"/><circle cx="482.31" cy="242.99" r="1.55"/><circle cx="485.71" cy="241.77" r="1.55"/><circle cx="489.11" cy="240.56" r="1.55"/><circle cx="492.51" cy="239.33" r="1.55"/><circle cx="495.91" cy="238.11" r="1.55"/><circle cx="499.31" cy="236.89" r="1.55"/><circle cx="502.71" cy="235.66" r="1.55"/><circle cx="506.11" cy="234.43" r="1.55"/><circle cx="509.50" cy="233.20" r="1.55"/><circle cx="512.90" cy="231.97" r="1.55"/><circle cx="516.30" cy="230.74" r="1.55"/><circle cx="519.70" cy="229.50" r="1.55"/><circle cx="523.10" cy="228.27" r="1.55"/><circle cx="526.50" cy="227.03" r="1.55"/><circle cx="529.90" cy="225.79" r="1.55"/><circle cx="533.30" cy="224.55" r="1.55"/><circle cx="536.69" cy="223.31" r="1.55"/><circle cx="540.09" cy="222.06" r="1.55"/><circle cx="543.49" cy="220.82" r="1.55"/><circle cx="546.89" cy="219.57" r="1.55"/><circle cx="550.29" cy="218.32" r="1.55"/><circle cx="553.69" cy="217.07" r="1.55"/><circle cx="557.09" cy="215.82" r="1.55"/><circle cx="560.49" cy="214.56" r="1.55"/><circle cx="563.88" cy="213.31" r="1.55"/><circle cx="567.28" cy="212.05" r="1.55"/><circle cx="570.68" cy="210.79" r="1.55"/><circle cx="574.08" cy="209.53" r="1.55"/><circle cx="577.48" cy="208.27" r="1.55"/><circle cx="580.88" cy="207.00" r="1.55"/><circle cx="584.28" cy="205.74" r="1.55"/><circle cx="587.68" cy="204.47" r="1.55"/><circle cx="591.08" cy="203.20" r="1.55"/><circle cx="594.47" cy="201.93" r="1.55"/><circle cx="597.87" cy="200.66" r="1.55"/><circle cx="601.27" cy="199.39" r="1.55"/><circle cx="604.67" cy="198.11" r="1.55"/><circle cx="608.07" cy="196.83" r="1.55"/><circle cx="611.47" cy="195.55" r="1.55"/><circle cx="614.87" cy="194.27" r="1.55"/><circle cx="618.26" cy="192.99" r="1.55"/><circle cx="621.66" cy="191.71" r="1.55"/><circle cx="625.06" cy="190.42" r="1.55"/><circle cx="628.46" cy="189.14" r="1.55"/><circle cx="631.86" cy="187.85" r="1.55"/><circle cx="635.26" cy="186.56" r="1.55"/><circle cx="638.66" cy="185.27" r="1.55"/><circle cx="642.06" cy="183.97" r="1.55"/><circle cx="645.46" cy="182.68" r="1.55"/><circle cx="648.85" cy="181.38" r="1.55"/><circle cx="652.25" cy="180.08" r="1.55"/><circle cx="655.65" cy="178.78" r="1.55"/><circle cx="659.05" cy="177.48" r="1.55"/><circle cx="662.45" cy="176.18" r="1.55"/><circle cx="665.85" cy="174.87" r="1.55"/><circle cx="669.25" cy="173.56" r="1.55"/><circle cx="672.64" cy="172.26" r="1.55"/><circle cx="676.04" cy="170.95" r="1.55"/><circle cx="679.44" cy="169.63" r="1.55"/><circle cx="682.84" cy="168.32" r="1.55"/><circle cx="686.24" cy="167.01" r="1.55"/><circle cx="689.64" cy="165.69" r="1.55"/><circle cx="693.04" cy="164.37" r="1.55"/><circle cx="696.44" cy="163.05" r="1.55"/><circle cx="699.84" cy="161.73" r="1.55"/><circle cx="703.23" cy="160.41" r="1.55"/><circle cx="706.63" cy="159.08" r="1.55"/><circle cx="710.03" cy="157.76" r="1.55"/><circle cx="713.43" cy="156.43" r="1.55"/><circle cx="716.83" cy="155.10" r="1.55"/><circle cx="720.23" cy="153.77" r="1.55"/><circle cx="723.63" cy="152.44" r="1.55"/><circle cx="727.02" cy="151.10" r="1.55"/><circle cx="730.42" cy="149.76" r="1.55"/><circle cx="733.82" cy="148.43" r="1.55"/><circle cx="737.22" cy="147.09" r="1.55"/><circle cx="740.62" cy="145.75" r="1.55"/><circle cx="744.02" cy="144.40" r="1.55"/><circle cx="747.42" cy="143.06" r="1.55"/><circle cx="750.82" cy="141.71" r="1.55"/><circle cx="754.21" cy="140.37" r="1.55"/><circle cx="757.61" cy="139.02" r="1.55"/><circle cx="761.01" cy="137.66" r="1.55"/><circle cx="764.41" cy="136.31" r="1.55"/><circle cx="767.81" cy="134.96" r="1.55"/><circle cx="771.21" cy="133.60" r="1.55"/><circle cx="774.61" cy="132.24" r="1.55"/><circle cx="778.01" cy="130.89" r="1.55"/><circle cx="781.40" cy="129.52" r="1.55"/><circle cx="784.80" cy="128.16" r="1.55"/><circle cx="788.20" cy="126.80" r="1.55"/></g>
<line x1="471.20" y1="367.6" x2="471.20" y2="18.9" stroke="#000" stroke-width="2.4" stroke-dasharray="7.2 7.34" stroke-dashoffset="2.7"/>
</g>
<g id="panelB" fill="none" stroke-width="3" stroke-linecap="square" stroke-linejoin="round">
<polyline points="122.05,582.00 128.84,581.29 135.64,580.59 142.44,579.90 149.24,579.22 156.03,578.55 162.83,577.89 169.63,577.25 176.43,576.61 183.22,575.99 190.02,575.38 196.82,574.79 203.62,574.21 210.42,573.65 217.21,573.11 224.01,572.58 230.81,572.07 237.61,571.58 244.40,571.10 251.20,570.65 258.00,570.22 264.79,569.80 271.59,569.41 278.39,569.05 285.19,568.70 291.99,568.38 298.78,568.08 305.58,567.80 312.38,567.55 319.17,567.32 325.97,567.10 332.77,566.91 339.57,566.74 346.37,566.59 353.16,566.46 359.96,566.34 366.76,566.24 373.56,566.16 380.35,566.10 387.15,566.05 393.95,566.02 400.75,566.01 407.54,566.02 414.34,566.05 421.14,566.09 427.94,566.15 434.73,566.24 441.53,566.34 448.33,566.46 455.12,566.60 461.92,566.76 468.72,566.94 475.52,567.14 482.31,567.36 489.11,567.60 495.91,567.85 502.71,568.12 509.51,568.41 516.30,568.71 523.10,569.03 529.90,569.37 536.69,569.72 543.49,570.08 550.29,570.46 557.09,570.86 563.88,571.27 570.68,571.70 577.48,572.14 584.28,572.60 591.08,573.09 597.87,573.59 604.67,574.11 611.47,574.65 618.26,575.21 625.06,575.80 631.86,576.41 638.66,577.04 645.46,577.69 652.25,578.36 659.05,579.06 665.85,579.77 672.65,580.50 679.44,581.25 686.24,582.01 693.04,582.79 699.84,583.58 706.63,584.39 713.43,585.21 720.23,586.05 727.02,586.89 733.82,587.75 740.62,588.62 747.42,589.49 754.22,590.38 761.01,591.27 767.81,592.17 774.61,593.07 781.40,593.98 788.20,594.90" stroke="#2585ee"/>
<polyline points="122.05,581.50 128.84,580.78 135.64,580.03 142.44,579.23 149.24,578.41 156.03,577.55 162.83,576.65 169.63,575.73 176.43,574.77 183.22,573.77 190.02,572.75 196.82,571.70 203.62,570.62 210.42,569.51 217.21,568.37 224.01,567.21 230.81,566.01 237.61,564.80 244.40,563.55 251.20,562.28 258.00,560.99 264.79,559.68 271.59,558.34 278.39,556.98 285.19,555.60 291.99,554.20 298.78,552.78 305.58,551.34 312.38,549.87 319.17,548.39 325.97,546.89 332.77,545.36 339.57,543.82 346.37,542.25 353.16,540.66 359.96,539.05 366.76,537.42 373.56,535.77 380.35,534.10 387.15,532.41 393.95,530.70 400.75,528.98 407.54,527.24 414.34,525.49 421.14,523.72 427.94,521.95 434.73,520.17 441.53,518.39 448.33,516.59 455.12,514.80 461.92,513.00 468.72,511.20 475.52,509.40 482.31,507.59 489.11,505.78 495.91,503.96 502.71,502.13 509.51,500.29 516.30,498.45 523.10,496.59 529.90,494.72 536.69,492.84 543.49,490.95 550.29,489.05 557.09,487.13 563.88,485.21 570.68,483.29 577.48,481.36 584.28,479.44 591.08,477.52 597.87,475.61 604.67,473.71 611.47,471.82 618.26,469.95 625.06,468.10 631.86,466.27 638.66,464.46 645.46,462.66 652.25,460.87 659.05,459.10 665.85,457.32 672.65,455.55 679.44,453.78 686.24,452.00 693.04,450.22 699.84,448.42 706.63,446.61 713.43,444.78 720.23,442.93 727.02,441.06 733.82,439.15 740.62,437.22 747.42,435.24 754.22,433.24 761.01,431.19 767.81,429.09 774.61,426.95 781.40,424.75 788.20,422.50" stroke="#ff6a0a"/>
<polyline points="122.05,580.50 128.84,578.82 135.64,577.13 142.44,575.44 149.24,573.74 156.03,572.04 162.83,570.32 169.63,568.61 176.43,566.89 183.22,565.16 190.02,563.43 196.82,561.69 203.62,559.95 210.42,558.20 217.21,556.45 224.01,554.69 230.81,552.93 237.61,551.17 244.40,549.40 251.20,547.63 258.00,545.85 264.79,544.07 271.59,542.28 278.39,540.49 285.19,538.70 291.99,536.90 298.78,535.11 305.58,533.31 312.38,531.51 319.17,529.71 325.97,527.91 332.77,526.11 339.57,524.32 346.37,522.52 353.16,520.74 359.96,518.96 366.76,517.18 373.56,515.42 380.35,513.66 387.15,511.90 393.95,510.15 400.75,508.41 407.54,506.66 414.34,504.92 421.14,503.18 427.94,501.43 434.73,499.68 441.53,497.93 448.33,496.17 455.12,494.40 461.92,492.62 468.72,490.84 475.52,489.05 482.31,487.26 489.11,485.46 495.91,483.66 502.71,481.85 509.51,480.04 516.30,478.23 523.10,476.42 529.90,474.61 536.69,472.80 543.49,471.00 550.29,469.20 557.09,467.40 563.88,465.61 570.68,463.83 577.48,462.06 584.28,460.30 591.08,458.56 597.87,456.83 604.67,455.12 611.47,453.42 618.26,451.75 625.06,450.10 631.86,448.47 638.66,446.86 645.46,445.28 652.25,443.70 659.05,442.14 665.85,440.58 672.65,439.04 679.44,437.49 686.24,435.95 693.04,434.40 699.84,432.85 706.63,431.29 713.43,429.71 720.23,428.12 727.02,426.52 733.82,424.89 740.62,423.24 747.42,421.57 754.22,419.86 761.01,418.13 767.81,416.36 774.61,414.55 781.40,412.69 788.20,410.80" stroke="#30d600"/>
<polyline points="122.05,582.70 128.84,583.08 135.64,583.44 142.44,583.80 149.24,584.14 156.03,584.47 162.83,584.79 169.63,585.09 176.43,585.38 183.22,585.65 190.02,585.91 196.82,586.14 203.62,586.36 210.42,586.56 217.21,586.73 224.01,586.88 230.81,587.01 237.61,587.12 244.40,587.20 251.20,587.25 258.00,587.28 264.79,587.28 271.59,587.25 278.39,587.19 285.19,587.10 291.99,586.98 298.78,586.82 305.58,586.64 312.38,586.43 319.17,586.18 325.97,585.91 332.77,585.61 339.57,585.29 346.37,584.93 353.16,584.56 359.96,584.15 366.76,583.72 373.56,583.27 380.35,582.79 387.15,582.29 393.95,581.76 400.75,581.21 407.54,580.62 414.34,580.01 421.14,579.36 427.94,578.68 434.73,577.96 441.53,577.21 448.33,576.43 455.12,575.60 461.92,574.74 468.72,573.83 475.52,572.90 482.31,571.93 489.11,570.93 495.91,569.90 502.71,568.85 509.51,567.78 516.30,566.68 523.10,565.56 529.90,564.43 536.69,563.28 543.49,562.12 550.29,560.95 557.09,559.76 563.88,558.56 570.68,557.34 577.48,556.10 584.28,554.84 591.08,553.57 597.87,552.27 604.67,550.94 611.47,549.59 618.26,548.21 625.06,546.80 631.86,545.36 638.66,543.89 645.46,542.39 652.25,540.86 659.05,539.30 665.85,537.70 672.65,536.08 679.44,534.42 686.24,532.74 693.04,531.02 699.84,529.28 706.63,527.50 713.43,525.69 720.23,523.85 727.02,521.99 733.82,520.09 740.62,518.16 747.42,516.20 754.22,514.21 761.01,512.19 767.81,510.14 774.61,508.05 781.40,505.94 788.20,503.80" stroke="#e3000f"/>
<polyline points="122.05,584.50 128.84,585.83 135.64,587.16 142.44,588.51 149.24,589.87 156.03,591.23 162.83,592.61 169.63,593.99 176.43,595.38 183.22,596.78 190.02,598.19 196.82,599.60 203.62,601.02 210.42,602.44 217.21,603.87 224.01,605.30 230.81,606.74 237.61,608.17 244.40,609.62 251.20,611.06 258.00,612.51 264.79,613.96 271.59,615.40 278.39,616.85 285.19,618.30 291.99,619.75 298.78,621.19 305.58,622.64 312.38,624.08 319.17,625.53 325.97,626.97 332.77,628.41 339.57,629.85 346.37,631.29 353.16,632.72 359.96,634.15 366.76,635.59 373.56,637.01 380.35,638.44 387.15,639.87 393.95,641.29 400.75,642.70 407.54,644.12 414.34,645.53 421.14,646.94 427.94,648.34 434.73,649.74 441.53,651.13 448.33,652.52 455.12,653.90 461.92,655.28 468.72,656.65 475.52,658.01 482.31,659.36 489.11,660.71 495.91,662.04 502.71,663.36 509.51,664.68 516.30,665.97 523.10,667.26 529.90,668.53 536.69,669.78 543.49,671.02 550.29,672.24 557.09,673.44 563.88,674.63 570.68,675.81 577.48,676.97 584.28,678.12 591.08,679.25 597.87,680.38 604.67,681.50 611.47,682.61 618.26,683.71 625.06,684.80 631.86,685.89 638.66,686.97 645.46,688.04 652.25,689.10 659.05,690.16 665.85,691.21 672.65,692.25 679.44,693.28 686.24,694.30 693.04,695.31 699.84,696.32 706.63,697.31 713.43,698.29 720.23,699.26 727.02,700.22 733.82,701.17 740.62,702.11 747.42,703.03 754.22,703.94 761.01,704.84 767.81,705.73 774.61,706.60 781.40,707.46 788.20,708.30" stroke="#9650fa"/>
<polyline points="122.05,583.20 128.84,583.65 135.64,584.15 142.44,584.68 149.24,585.26 156.03,585.88 162.83,586.54 169.63,587.23 176.43,587.96 183.22,588.73 190.02,589.53 196.82,590.36 203.62,591.22 210.42,592.12 217.21,593.04 224.01,593.98 230.81,594.96 237.61,595.95 244.40,596.97 251.20,598.01 258.00,599.08 264.79,600.16 271.59,601.26 278.39,602.37 285.19,603.50 291.99,604.64 298.78,605.80 305.58,606.98 312.38,608.17 319.17,609.37 325.97,610.59 332.77,611.83 339.57,613.09 346.37,614.37 353.16,615.67 359.96,616.98 366.76,618.32 373.56,619.68 380.35,621.06 387.15,622.47 393.95,623.89 400.75,625.33 407.54,626.78 414.34,628.26 421.14,629.75 427.94,631.25 434.73,632.77 441.53,634.30 448.33,635.85 455.12,637.40 461.92,638.96 468.72,640.54 475.52,642.13 482.31,643.73 489.11,645.34 495.91,646.96 502.71,648.60 509.51,650.26 516.30,651.93 523.10,653.61 529.90,655.31 536.69,657.03 543.49,658.77 550.29,660.52 557.09,662.29 563.88,664.07 570.68,665.87 577.48,667.67 584.28,669.47 591.08,671.28 597.87,673.09 604.67,674.90 611.47,676.71 618.26,678.51 625.06,680.30 631.86,682.08 638.66,683.86 645.46,685.63 652.25,687.40 659.05,689.18 665.85,690.95 672.65,692.74 679.44,694.53 686.24,696.34 693.04,698.16 699.84,700.00 706.63,701.86 713.43,703.75 720.23,705.66 727.02,707.60 733.82,709.58 740.62,711.59 747.42,713.64 754.22,715.73 761.01,717.86 767.81,720.04 774.61,722.28 781.40,724.56 788.20,726.90" stroke="#84393a"/>
<polyline points="122.05,583.60 128.84,584.32 135.64,585.08 142.44,585.87 149.24,586.68 156.03,587.52 162.83,588.39 169.63,589.28 176.43,590.19 183.22,591.12 190.02,592.07 196.82,593.03 203.62,594.00 210.42,594.99 217.21,595.99 224.01,596.99 230.81,598.01 237.61,599.02 244.40,600.04 251.20,601.06 258.00,602.08 264.79,603.09 271.59,604.10 278.39,605.11 285.19,606.10 291.99,607.08 298.78,608.06 305.58,609.04 312.38,610.02 319.17,611.00 325.97,612.00 332.77,613.01 339.57,614.03 346.37,615.08 353.16,616.16 359.96,617.27 366.76,618.41 373.56,619.60 380.35,620.82 387.15,622.08 393.95,623.37 400.75,624.69 407.54,626.05 414.34,627.42 421.14,628.82 427.94,630.23 434.73,631.66 441.53,633.10 448.33,634.55 455.12,636.00 461.92,637.46 468.72,638.91 475.52,640.37 482.31,641.84 489.11,643.30 495.91,644.76 502.71,646.23 509.51,647.69 516.30,649.16 523.10,650.63 529.90,652.10 536.69,653.57 543.49,655.03 550.29,656.50 557.09,657.97 563.88,659.44 570.68,660.91 577.48,662.37 584.28,663.84 591.08,665.30 597.87,666.77 604.67,668.23 611.47,669.69 618.26,671.15 625.06,672.60 631.86,674.05 638.66,675.51 645.46,676.96 652.25,678.42 659.05,679.89 665.85,681.37 672.65,682.86 679.44,684.37 686.24,685.89 693.04,687.43 699.84,689.00 706.63,690.59 713.43,692.21 720.23,693.86 727.02,695.55 733.82,697.27 740.62,699.02 747.42,700.82 754.22,702.66 761.01,704.55 767.81,706.48 774.61,708.47 781.40,710.51 788.20,712.60" stroke="#e35cf7"/>
</g>
<line x1="471.20" y1="743.2" x2="471.20" y2="394.4" stroke="#000" stroke-width="2.4" stroke-dasharray="7.2 7.34" stroke-dashoffset="2.7"/>
<g fill="none" stroke="#000000" stroke-width="1.6">
<rect x="115.25" y="19.9" width="679.75" height="347.70000000000005"/>
<rect x="115.25" y="395.4" width="679.75" height="347.80000000000007"/>
<line x1="108.25" y1="353.00" x2="115.25" y2="353.00"/>
<line x1="108.25" y1="301.15" x2="115.25" y2="301.15"/>
<line x1="108.25" y1="249.30" x2="115.25" y2="249.30"/>
<line x1="108.25" y1="197.45" x2="115.25" y2="197.45"/>
<line x1="108.25" y1="145.60" x2="115.25" y2="145.60"/>
<line x1="108.25" y1="93.75" x2="115.25" y2="93.75"/>
<line x1="108.25" y1="41.90" x2="115.25" y2="41.90"/>
<line x1="108.25" y1="703.00" x2="115.25" y2="703.00"/>
<line x1="108.25" y1="638.18" x2="115.25" y2="638.18"/>
<line x1="108.25" y1="573.36" x2="115.25" y2="573.36"/>
<line x1="108.25" y1="508.54" x2="115.25" y2="508.54"/>
<line x1="108.25" y1="443.72" x2="115.25" y2="443.72"/>
<line x1="115.25" y1="367.6" x2="115.25" y2="374.6"/>
<line x1="115.25" y1="743.2" x2="115.25" y2="750.2"/>
<line x1="251.20" y1="367.6" x2="251.20" y2="374.6"/>
<line x1="251.20" y1="743.2" x2="251.20" y2="750.2"/>
<line x1="387.15" y1="367.6" x2="387.15" y2="374.6"/>
<line x1="387.15" y1="743.2" x2="387.15" y2="750.2"/>
<line x1="523.10" y1="367.6" x2="523.10" y2="374.6"/>
<line x1="523.10" y1="743.2" x2="523.10" y2="750.2"/>
<line x1="659.05" y1="367.6" x2="659.05" y2="374.6"/>
<line x1="659.05" y1="743.2" x2="659.05" y2="750.2"/>
<line x1="795.00" y1="367.6" x2="795.00" y2="374.6"/>
<line x1="795.00" y1="743.2" x2="795.00" y2="750.2"/>
</g>
<g font-family="'DejaVu Sans','Liberation Sans',sans-serif" font-size="19.3px" fill="#000000" stroke="#000000" stroke-width="0.15">
<text transform="translate(102.10,360.20) scale(1,1.03)" text-anchor="end">0.000</text>
<text transform="translate(102.10,308.35) scale(1,1.03)" text-anchor="end">0.005</text>
<text transform="translate(102.10,256.50) scale(1,1.03)" text-anchor="end">0.010</text>
<text transform="translate(102.10,204.65) scale(1,1.03)" text-anchor="end">0.015</text>
<text transform="translate(102.10,152.80) scale(1,1.03)" text-anchor="end">0.020</text>
<text transform="translate(102.10,100.95) scale(1,1.03)" text-anchor="end">0.025</text>
<text transform="translate(102.10,49.10) scale(1,1.03)" text-anchor="end">0.030</text>
<text transform="translate(102.10,710.20) scale(1,1.03)" text-anchor="end">0.05</text>
<text transform="translate(102.10,645.38) scale(1,1.03)" text-anchor="end">0.10</text>
<text transform="translate(102.10,580.56) scale(1,1.03)" text-anchor="end">0.15</text>
<text transform="translate(102.10,515.74) scale(1,1.03)" text-anchor="end">0.20</text>
<text transform="translate(102.10,450.92) scale(1,1.03)" text-anchor="end">0.25</text>
<text transform="translate(115.25,771.10) scale(1,1.03)" text-anchor="middle">0.0</text>
<text transform="translate(251.20,771.10) scale(1,1.03)" text-anchor="middle">0.2</text>
<text transform="translate(387.15,771.10) scale(1,1.03)" text-anchor="middle">0.4</text>
<text transform="translate(523.10,771.10) scale(1,1.03)" text-anchor="middle">0.6</text>
<text transform="translate(659.05,771.10) scale(1,1.03)" text-anchor="middle">0.8</text>
<text transform="translate(795.00,771.10) scale(1,1.03)" text-anchor="middle">1.0</text>
<text transform="translate(35.40,298.30) rotate(-90) scale(1,1.03)" text-anchor="start">birth and death times</text>
<text transform="translate(45.00,629.40) rotate(-90) scale(1,1.03)" text-anchor="start">pagerank,</text>
<text transform="translate(326.00,797.20) scale(1,1.03)" text-anchor="start">teleportation parameter,</text>
</g>
<text transform="translate(42.00,526.70) rotate(-90) scale(1.07,1.0)" font-family="'Liberation Serif','DejaVu Serif',serif" font-style="italic" font-size="21px" fill="#000">π</text>
<text transform="translate(45.00,514.80) rotate(-90) scale(1.2,1.0)" font-family="'Liberation Serif','DejaVu Serif',serif" font-style="italic" font-size="13.5px" fill="#000">i</text>
<text transform="translate(41.60,505.90) rotate(-90) scale(0.85,1.0)" font-family="'Liberation Serif','DejaVu Serif',serif" font-size="23.5px" fill="#000">(</text>
<text transform="translate(42.00,498.60) rotate(-90) scale(1.1,1.0)" font-family="'Liberation Serif','DejaVu Serif',serif" font-style="italic" font-size="22px" fill="#000">α</text>
<text transform="translate(41.60,484.00) rotate(-90) scale(0.85,1.0)" font-family="'Liberation Serif','DejaVu Serif',serif" font-size="23.5px" fill="#000">)</text>
<text transform="translate(571.55,796.50) scale(1.28,1.0)" font-family="'Liberation Serif','DejaVu Serif',serif" font-style="italic" font-size="19.5px" fill="#000">α</text>
<text transform="translate(3.10,19.70) scale(0.78,1.0)" font-family="'Liberation Sans',sans-serif" font-size="23.7px" fill="#000">(</text>
<text transform="translate(11.00,21.45) scale(0.84,1.0)" font-family="'Liberation Sans',sans-serif" font-size="26.4px" fill="#000">A</text>
<text transform="translate(27.96,19.70) scale(0.78,1.0)" font-family="'Liberation Sans',sans-serif" font-size="23.7px" fill="#000">)</text>
<text transform="translate(3.10,398.60) scale(0.78,1.0)" font-family="'Liberation Sans',sans-serif" font-size="23.7px" fill="#000">(</text>
<text transform="translate(11.20,400.35) scale(0.8,1.0)" font-family="'Liberation Sans',sans-serif" font-size="26.4px" fill="#000">B</text>
<text transform="translate(26.20,398.60) scale(0.78,1.0)" font-family="'Liberation Sans',sans-serif" font-size="23.7px" fill="#000">)</text>
<rect x="125.2" y="29.6" width="208.0" height="62.800000000000004" rx="4" ry="4" fill="#ffffff" fill-opacity="0.8" stroke="#c6cdcd" stroke-opacity="0.9" stroke-width="1.7"/>
<circle cx="151.8" cy="47.6" r="2.6" fill="#2038f8"/>
<circle cx="151.8" cy="76.2" r="1.55" fill="#050a0a" fill-opacity="0.63" stroke="#050a0a" stroke-opacity="0.63" stroke-width="1.7"/>
<g font-family="'DejaVu Sans','Liberation Sans',sans-serif" font-size="19.3px" fill="#000000" stroke="#000000" stroke-width="0.15">
<text transform="translate(186.00,52.00) scale(1,1.03)" text-anchor="start">birth time, <tspan font-style="italic">ε</tspan><tspan font-style="italic" font-size="13.5px" dy="3">b</tspan></text>
<text transform="translate(186.00,80.60) scale(1,1.03)" text-anchor="start">death time, <tspan font-style="italic">ε</tspan><tspan font-style="italic" font-size="13.5px" dy="3">d</tspan></text>
</g>
<rect x="700.9" y="467.2" width="84.30000000000007" height="203.3" rx="4" ry="4" fill="#ffffff" fill-opacity="0.8" stroke="#c6cdcd" stroke-opacity="0.9" stroke-width="1.7"/>
<clipPath id="lgclip"><rect x="701.8" y="468.1" width="82.5" height="201.5"/></clipPath>
<g clip-path="url(#lgclip)" fill="none" stroke-width="3">
<polyline points="686.24,582.01 693.04,582.79 699.84,583.58 706.63,584.39 713.43,585.21 720.23,586.05 727.02,586.89 733.82,587.75 740.62,588.62 747.42,589.49 754.21,590.38 761.01,591.27 767.81,592.17 774.61,593.07 781.40,593.98 788.20,594.90" stroke="#d6eef6"/>
<polyline points="686.24,532.74 693.04,531.02 699.84,529.28 706.63,527.50 713.43,525.69 720.23,523.85 727.02,521.99 733.82,520.09 740.62,518.16 747.42,516.20 754.21,514.21 761.01,512.19 767.81,510.14 774.61,508.05 781.40,505.94 788.20,503.80" stroke="#ffc6de"/>
</g>
<g font-family="'DejaVu Sans','Liberation Sans',sans-serif" font-size="19.3px" fill="#000000" stroke="#000000" stroke-width="0.15">
<line x1="707" y1="482.60" x2="749" y2="482.60" stroke="#2585ee" stroke-width="3"/>
<text transform="translate(762.30,490.00) scale(1,1.03)" text-anchor="start">A</text>
<line x1="707" y1="510.80" x2="749" y2="510.80" stroke="#ff6a0a" stroke-width="3"/>
<text transform="translate(762.30,518.20) scale(1,1.03)" text-anchor="start">B</text>
<line x1="707" y1="539.00" x2="749" y2="539.00" stroke="#30d600" stroke-width="3"/>
<text transform="translate(762.30,546.40) scale(1,1.03)" text-anchor="start">C</text>
<line x1="707" y1="567.20" x2="749" y2="567.20" stroke="#e3000f" stroke-width="3"/>
<text transform="translate(762.30,574.60) scale(1,1.03)" text-anchor="start">D</text>
<line x1="707" y1="595.40" x2="749" y2="595.40" stroke="#9650fa" stroke-width="3"/>
<text transform="translate(762.30,602.80) scale(1,1.03)" text-anchor="start">E</text>
<line x1="707" y1="623.60" x2="749" y2="623.60" stroke="#84393a" stroke-width="3"/>
<text transform="translate(762.30,631.00) scale(1,1.03)" text-anchor="start">F</text>
<line x1="707" y1="651.80" x2="749" y2="651.80" stroke="#e35cf7" stroke-width="3"/>
<text transform="translate(762.30,659.20) scale(1,1.03)" text-anchor="start">G</text>
</g>
</svg>
</body></html>
